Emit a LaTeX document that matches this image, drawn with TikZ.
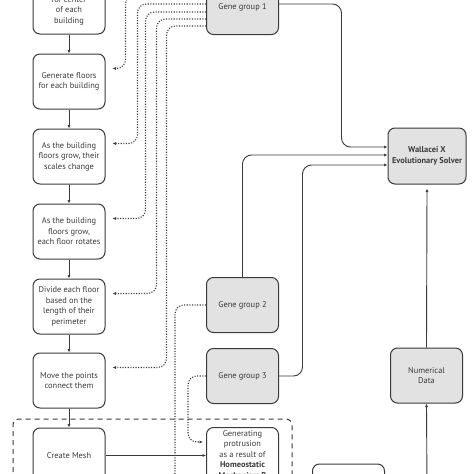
\documentclass[tikz,border=0pt]{standalone}
\usepackage{fontspec}
\setmainfont{PT Sans}
\usetikzlibrary{arrows.meta,positioning}
\definecolor{ink}{HTML}{3A3A3A}
\definecolor{boxgray}{HTML}{E2E2E2}
\tikzset{%
   box/.style={rectangle, rounded corners=7pt, draw=ink, line width=1pt, minimum width=72pt, minimum height=55pt, inner sep=2pt, align=center, text=ink, font=\fontsize{8.4}{10.5}\selectfont},
   gbox/.style={box, fill=boxgray},
   arr/.style={draw=ink, line width=0.9pt, -{Latex[length=3.5pt,width=3pt]}},
   dotarr/.style={draw=ink, line width=1.1pt, dash pattern=on 1.1pt off 1.5pt, rounded corners=9pt, -{Latex[length=3.5pt,width=3pt]}},
}
\begin{document}
\begin{tikzpicture}[x=1pt, y=-1pt]
   \useasboundingbox (0,0) rectangle (474,474);
   \clip (0,0) rectangle (474,474);
   % steps
   \node[box] (s1) at (69,6.5) {\phantom{x}\\for center\\of each\\building};
   \node[box, below=19pt of s1] (s2) {Generate floors\\for each building};
   \node[box, below=19pt of s2] (s3) {As the building\\floors grow, their\\scales change};
   \node[box, below=19pt of s3] (s4) {As the building\\floors grow,\\each floor rotates};
   \node[box, below=19pt of s4] (s5) {Divide each floor\\based on the\\length of their\\perimeter};
   \node[box, below=18pt of s5] (s6) {Move the points\\connect them};
   \node[box, below=19pt of s6] (s7) {Create Mesh};
   \path[arr] (s1) edge (s2) (s2) edge (s3) (s3) edge (s4) (s4) edge (s5) (s5) edge (s6) (s6) edge (s7);
   % gene groups
   \node[gbox] (g1) at (242.5,7) {Gene group 1};
   \node[gbox] (g2) at (242.5,305) {Gene group 2};
   \node[gbox, below=15pt of g2] (g3) {Gene group 3};
   \node[box, anchor=north, minimum height=0pt, inner sep=3pt] (p) at (242.5,427) {Generating\\protrusion\\as a result of\\\textbf{Homeostatic}\\\textbf{Mechanism B}};
   \node[gbox, minimum width=78pt, minimum height=56pt, font=\fontsize{8.4}{10.5}\selectfont\bfseries] (w) at (427,156) {Wallacei X\\Evolutionary Solver};
   \node[gbox] (nd) at (426.5,375.5) {Numerical\\Data};
   \node[box] (bb) at (348.5,491.5) {};
   \coordinate (e1) at (427,490);
   \coordinate (e2) at (175,490);
   \coordinate (t3) at (203,442);
   % dashed group
   \draw[ink, line width=1pt, dash pattern=on 5pt off 4pt, rounded corners=6pt] (13,490) |- (292,419) -- (292,490);
   % dotted links
   \draw[dotarr] ([yshift=12pt]g1.west) -| ([xshift=20pt,yshift=13pt]s2.east) -- ([xshift=7pt,yshift=13pt]s2.east);
   \draw[dotarr] ([yshift=3pt]g1.west) -| ([xshift=32pt,yshift=13pt]s3.east) -- ([xshift=7pt,yshift=13pt]s3.east);
   \draw[dotarr] ([yshift=-5pt]g1.west) -| ([xshift=40pt,yshift=13pt]s4.east) -- ([xshift=7pt,yshift=13pt]s4.east);
   \draw[dotarr] ([yshift=-12pt]g1.west) -| ([xshift=51pt,yshift=13pt]s5.east) -- ([xshift=7pt,yshift=13pt]s5.east);
   \draw[dotarr] ([yshift=-19pt]g1.west) -| ([xshift=61pt,yshift=13pt]s6.east) -- ([xshift=7pt,yshift=13pt]s6.east);
   \draw[dotarr, -] (g2.west) -| (e2);
   \draw[dotarr] (g3.west) -| ([xshift=-15pt]t3) -- (t3);
   % solver links
   \draw[arr, rounded corners=9pt] ([yshift=3pt]g1.east) -| ([xshift=-46pt,yshift=9pt]w.west) -- ([yshift=9pt]w.west);
   \draw[arr, rounded corners=9pt] (g2.north) |- ([yshift=1pt]w.west);
   \draw[arr, rounded corners=9pt] (g3.east) -| ([xshift=-85pt,yshift=-9pt]w.west) -- ([yshift=-9pt]w.west);
   \draw[arr] (s7.east) -- (s7.east -| p.west);
   \draw[arr] (e1) -- (nd.south);
   \draw[arr] (nd.north) -- ([yshift=-4pt]w.south);
\end{tikzpicture}
\end{document}
